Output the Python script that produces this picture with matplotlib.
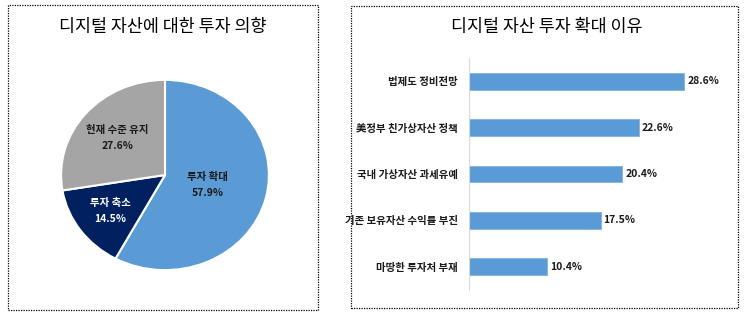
import numpy as np
import matplotlib.pyplot as plt
from matplotlib.patches import Rectangle

plt.rcParams['font.family'] = ['Noto Sans CJK KR', 'DejaVu Sans']

# --- data ---
pie_labels = ['투자 확대', '투자 축소', '현재 수준 유지']
pie_values = [57.9, 14.5, 27.6]
pie_colors = ['#5B9BD5', '#002060', '#A5A5A5']
pie_text_colors = ['#1a1a1a', 'white', '#1a1a1a']

bar_labels = ['법제도 정비전망', '美정부 친가상자산 정책', '국내 가상자산 과세유예',
              '기존 보유자산 수익률 부진', '마땅한 투자처 부재']
bar_values = [28.6, 22.6, 20.4, 17.5, 10.4]

W, H = 745, 328
fig = plt.figure(figsize=(W / 100, H / 100), dpi=100)

def px(x0, y0, x1, y1):
    # pixel box -> figure fraction [left, bottom, width, height]
    return [x0 / W, 1 - y1 / H, (x1 - x0) / W, (y1 - y0) / H]

# dotted frames
for (x0, y0, x1, y1) in [(8, 5, 318, 310), (351, 6, 738, 308)]:
    fig.patches.append(Rectangle((x0 / W, 1 - y1 / H), (x1 - x0) / W, (y1 - y0) / H,
                                 transform=fig.transFigure, fill=False,
                                 edgecolor='black', linestyle=(0, (1, 1)), linewidth=0.9))

# titles
fig.text(163 / W, 1 - 27 / H, '디지털 자산에 대한 투자 의향', ha='center', va='center',
         fontsize=12.5, fontweight='medium', color='black')
fig.text(547 / W, 1 - 27 / H, '디지털 자산 투자 확대 이유', ha='center', va='center',
         fontsize=12.5, fontweight='medium', color='black')

# --- pie ---
ax1 = fig.add_axes(px(165 - 106, 175 - 97, 165 + 106, 175 + 97))
wedges, _ = ax1.pie(pie_values, colors=pie_colors, startangle=90, counterclock=False,
                    wedgeprops=dict(edgecolor='white', linewidth=1.5))
ax1.set_aspect('auto')
ax1.set_xlim(-1.02, 1.02)
ax1.set_ylim(-1.02, 1.02)
label_r = [0.42, 0.65, 0.6]
for w, lab, val, tc, r in zip(wedges, pie_labels, pie_values, pie_text_colors, label_r):
    ang = np.deg2rad((w.theta1 + w.theta2) / 2)
    ax1.text(r * np.cos(ang), r * np.sin(ang), f'{lab}\n{val}%', ha='center', va='center',
             fontsize=7.5, fontweight='bold', color=tc, linespacing=1.8)

# --- bars ---
ax2 = fig.add_axes(px(469, 58, 469 + 30 * 7.52, 290))
y = np.arange(len(bar_labels))
ax2.barh(y, bar_values, height=0.36, color='#5B9BD5', edgecolor='#7FB2E0', linewidth=0.6)
ax2.set_xlim(0, 30)
ax2.set_ylim(len(bar_labels) - 0.5, -0.5)
ax2.set_yticks(y)
ax2.set_yticklabels(bar_labels, fontsize=7.5, fontweight='bold', color='#1a1a1a')
ax2.tick_params(axis='y', length=0, pad=8)
ax2.set_xticks([])
for s in ['top', 'right', 'bottom']:
    ax2.spines[s].set_visible(False)
ax2.spines['left'].set_color('#D9D9D9')
for yi, v in zip(y, bar_values):
    ax2.text(v + 0.4, yi, f'{v}%', va='center', ha='left', fontsize=7.5,
             fontweight='bold', color='#1a1a1a', clip_on=False)

fig.savefig('out.png', dpi=100)
